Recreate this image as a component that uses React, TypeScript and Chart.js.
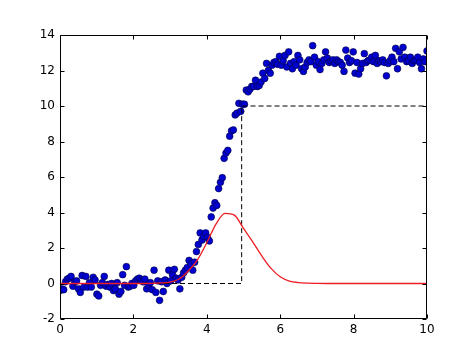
import React, { useEffect, useRef } from "react";
import { Chart, registerables } from "chart.js";

Chart.register(...registerables);

// scatter samples: evenly spaced grid from 0 to 10 (200 samples)
const N_SAMPLES = 200;
const X_MIN = 0;
const X_MAX = 10;
const scatterY = [
  -0.40, -0.30, -0.35, 0.10, 0.25, 0.30, 0.40, -0.15, 0.10, 0.15,
  -0.30, -0.50, 0.45, -0.20, 0.40, -0.20, 0.05, -0.20, 0.35, 0.20,
  -0.60, -0.70, -0.10, 0.05, 0.40, -0.15, -0.05, -0.20, 0.00, -0.40,
  -0.30, 0.05, -0.60, -0.45, 0.50, -0.10, 0.95, -0.20, -0.15, 0.00,
  -0.10, 0.15, 0.25, 0.30, 0.20, 0.10, 0.25, -0.30, -0.10, 0.05,
  -0.35, 0.75, -0.50, 0.15, -0.95, 0.10, -0.45, 0.20, 0.00, 0.75,
  0.15, 0.50, 0.80, 0.30, 0.20, -0.30, 0.35, 0.60, 0.75, 0.90,
  1.30, 1.10, 0.75, 1.20, 1.80, 2.20, 2.85, 2.45, 2.65, 2.85,
  2.60, 2.40, 3.75, 4.25, 4.55, 4.40, 5.35, 5.70, 5.96, 7.05,
  7.35, 7.50, 8.30, 8.60, 8.65, 9.50, 9.60, 10.15, 9.70, 10.10,
  10.10, 10.90, 10.80, 10.95, 11.10, 11.10, 11.45, 11.10, 11.15, 11.35,
  11.85, 11.55, 12.40, 12.00, 11.85, 12.30, 12.45, 12.50, 12.35, 12.80,
  12.30, 12.55, 12.85, 12.20, 13.05, 12.40, 12.10, 12.50, 12.30, 12.85,
  12.60, 12.10, 11.95, 12.20, 12.45, 12.60, 12.50, 13.40, 12.75, 12.30,
  12.50, 12.05, 12.40, 12.60, 13.05, 12.70, 12.45, 12.55, 12.60, 12.40,
  12.60, 12.50, 12.45, 12.30, 11.95, 13.15, 12.70, 12.45, 12.55, 13.05,
  11.85, 12.45, 11.80, 12.10, 12.40, 12.95, 12.45, 12.55, 12.60, 12.75,
  12.50, 12.85, 12.40, 12.55, 12.50, 12.60, 12.45, 11.70, 12.40, 12.55,
  12.75, 12.50, 13.25, 12.10, 13.05, 12.65, 13.30, 12.75, 12.50, 12.55,
  12.75, 12.40, 12.55, 12.60, 12.75, 12.45, 12.10, 12.65, 12.50, 13.10,
];

// red curve samples
const curveX = [
  0, 0.5, 1, 1.5, 2, 2.5, 2.75, 3, 3.25, 3.5, 3.75, 4, 4.25, 4.5, 4.75,
  5, 5.25, 5.5, 5.75, 6, 6.25, 6.5, 6.75, 7, 7.5, 8, 9, 10,
];
const curveY = [
  0, 0, 0, 0, 0, 0.01, 0.03, 0.08, 0.25, 0.72, 1.35, 2.3, 3.35, 3.95, 3.85,
  3.1, 2.35, 1.55, 0.85, 0.38, 0.14, 0.05, 0.02, 0.01, 0, 0, 0, 0,
];

// dashed step
const stepX = [0, 4.95, 4.95, 10];
const stepY = [0, 0, 10, 10];

const xTicks = [0, 2, 4, 6, 8, 10];
const yTicks = [-2, 0, 2, 4, 6, 8, 10, 12, 14];

const framePlugin = {
  id: "frame",
  afterDraw(chart: any) {
    const { ctx, chartArea, scales } = chart;
    const { left, right, top, bottom } = chartArea;
    const L = Math.round(left) + 0.5;
    const R = Math.round(right) - 0.5;
    const T = Math.round(top) + 0.5;
    const B = Math.round(bottom) - 0.5;
    ctx.save();
    ctx.strokeStyle = "#000";
    ctx.lineWidth = 1;
    ctx.beginPath();
    ctx.rect(L, T, R - L, B - T);
    const tl = 4;
    for (const v of xTicks) {
      const px = Math.round(scales.x.getPixelForValue(v)) + 0.5;
      ctx.moveTo(px, B);
      ctx.lineTo(px, B - tl);
      ctx.moveTo(px, T);
      ctx.lineTo(px, T + tl);
    }
    for (const v of yTicks) {
      const py = Math.round(scales.y.getPixelForValue(v)) + 0.5;
      ctx.moveTo(L, py);
      ctx.lineTo(L + tl, py);
      ctx.moveTo(R, py);
      ctx.lineTo(R - tl, py);
    }
    ctx.stroke();
    ctx.restore();
  },
};

export default function App() {
  const ref = useRef<HTMLCanvasElement>(null);
  useEffect(() => {
    document.body.style.margin = "0";
    const step = (X_MAX - X_MIN) / (N_SAMPLES - 1);
    const scatterData = scatterY.map((y, i) => ({ x: X_MIN + i * step, y }));
    const curveData = curveX.map((x, i) => ({ x, y: curveY[i] }));
    const stepData = stepX.map((x, i) => ({ x, y: stepY[i] }));
    const font = { family: "'DejaVu Sans', sans-serif", size: 12 };
    const chart = new Chart(ref.current!, {
      type: "scatter",
      data: {
        datasets: [
          {
            type: "line",
            data: curveData,
            borderColor: "#ee1c24",
            borderWidth: 1.3,
            pointRadius: 0,
            cubicInterpolationMode: "monotone",
            fill: false,
          } as any,
          {
            type: "line",
            data: stepData,
            borderColor: "#000000",
            borderWidth: 1,
            borderDash: [5, 3],
            pointRadius: 0,
            tension: 0,
            fill: false,
          } as any,
          {
            type: "scatter",
            data: scatterData,
            backgroundColor: "#0000d0",
            borderColor: "#000040",
            borderWidth: 0.6,
            pointRadius: 3.4,
          },
        ],
      },
      options: {
        responsive: false,
        animation: false,
        layout: { padding: { top: 35, right: 47, bottom: 0, left: 0 } },
        plugins: {
          legend: { display: false },
          tooltip: { enabled: false },
        },
        scales: {
          x: {
            type: "linear",
            min: 0,
            max: 10,
            afterFit: (s: any) => {
              s.height = 36;
            },
            afterBuildTicks: (s: any) => {
              s.ticks = xTicks.map((v) => ({ value: v }));
            },
            grid: { display: false, drawTicks: false },
            border: { display: false },
            ticks: { color: "#000", font, padding: 4, maxRotation: 0, autoSkip: false },
          },
          y: {
            type: "linear",
            min: -2,
            max: 14,
            afterFit: (s: any) => {
              s.width = 60;
            },
            afterBuildTicks: (s: any) => {
              s.ticks = yTicks.map((v) => ({ value: v }));
            },
            grid: { display: false, drawTicks: false },
            border: { display: false },
            ticks: { color: "#000", font, padding: 5, autoSkip: false },
          },
        },
      },
      plugins: [framePlugin],
    });
    return () => chart.destroy();
  }, []);
  return (
    <div style={{ position: "fixed", left: 0, top: 0, width: 474, height: 355, background: "#fff" }}>
      <canvas ref={ref} width={474} height={355} />
    </div>
  );
}
